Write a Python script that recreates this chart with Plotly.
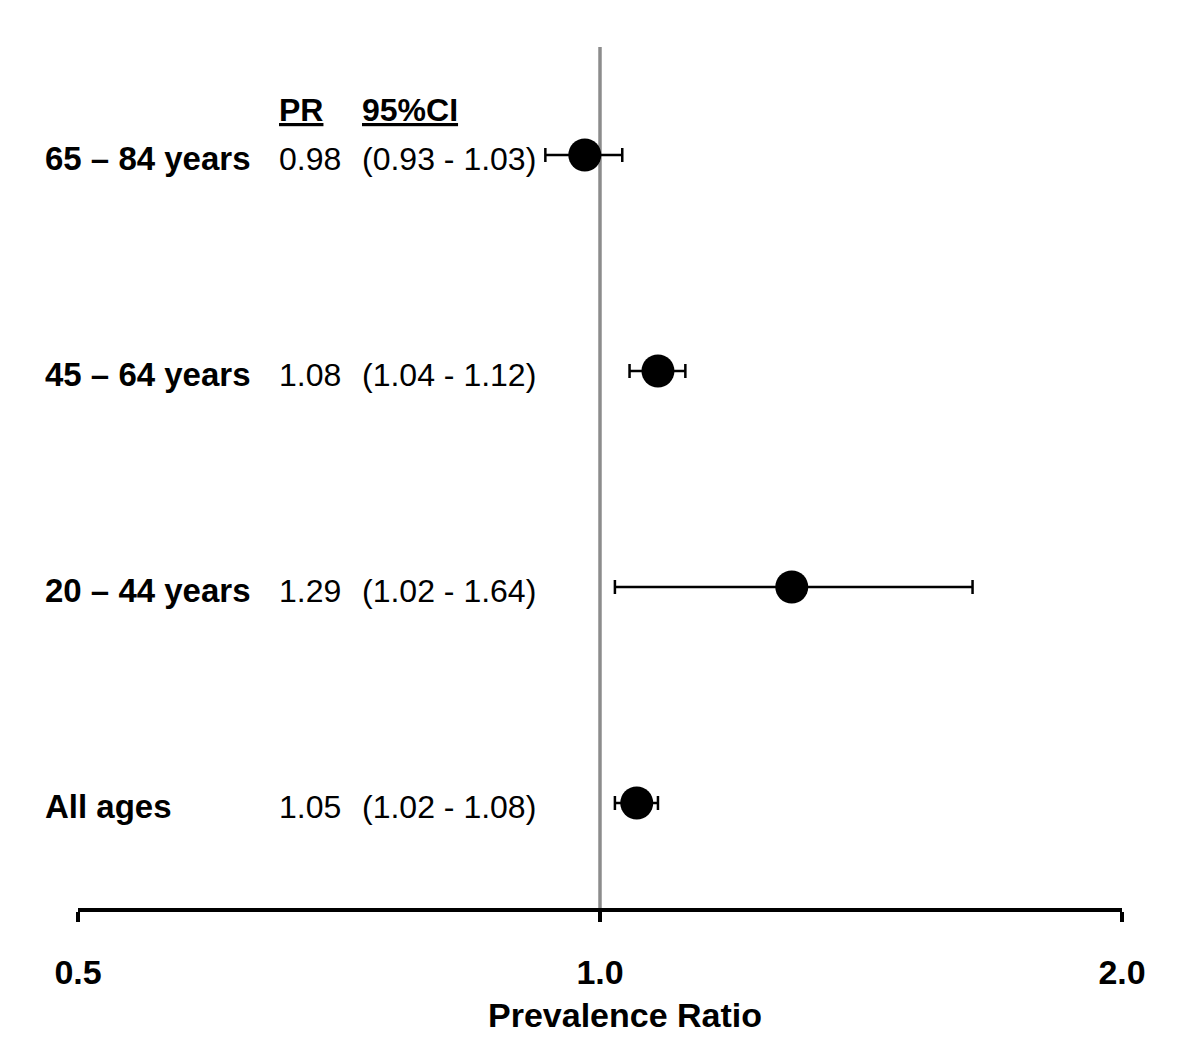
import plotly.graph_objects as go

groups = ["65 – 84 years", "45 – 64 years", "20 – 44 years", "All ages"]
pr = [0.98, 1.08, 1.29, 1.05]
ci_low = [0.93, 1.04, 1.02, 1.02]
ci_high = [1.03, 1.12, 1.64, 1.08]
rows = [4, 3, 2, 1]
tick_vals = [0.5, 1.0, 2.0]
tick_text = ["0.5", "1.0", "2.0"]
x_title = "Prevalence Ratio"

FONT = "Liberation Sans, Arial, sans-serif"

fig = go.Figure()
fig.add_trace(go.Scatter(
    x=pr, y=rows, mode="markers",
    marker=dict(size=33, color="black"),
    error_x=dict(type="data", symmetric=False,
                 array=[h - p for h, p in zip(ci_high, pr)],
                 arrayminus=[p - l for p, l in zip(pr, ci_low)],
                 color="black", thickness=2.5, width=7),
    showlegend=False, hoverinfo="skip",
))

# reference line at 1.0
fig.add_shape(type="line", xref="x", yref="paper", x0=1.0, x1=1.0, y0=0, y1=1,
              line=dict(color="#8c8c8c", width=3.5), layer="below")

# header
fig.add_annotation(xref="paper", yref="y", x=0.1906, y=4.21, text="<b><u>PR</u></b>",
                   showarrow=False, xanchor="left", yanchor="middle",
                   font=dict(family=FONT, size=32, color="black"))
fig.add_annotation(xref="paper", yref="y", x=0.2701, y=4.21, text="<b><u>95%CI</u></b>",
                   showarrow=False, xanchor="left", yanchor="middle",
                   font=dict(family=FONT, size=32, color="black"))

for g, p, l, h, r in zip(groups, pr, ci_low, ci_high, rows):
    fig.add_annotation(xref="paper", yref="y", x=-0.0335, y=r - 0.015, text=f"<b>{g}</b>",
                       showarrow=False, xanchor="left", yanchor="middle",
                       font=dict(family=FONT, size=33, color="black"))
    fig.add_annotation(xref="paper", yref="y", x=0.1906, y=r - 0.02, text=f"{p:.2f}",
                       showarrow=False, xanchor="left", yanchor="middle",
                       font=dict(family=FONT, size=32, color="black"))
    fig.add_annotation(xref="paper", yref="y", x=0.2701, y=r - 0.02, text=f"({l:.2f} - {h:.2f})",
                       showarrow=False, xanchor="left", yanchor="middle",
                       font=dict(family=FONT, size=32, color="black"))

# x-axis title (offset to the right as in the reference)
fig.add_annotation(xref="paper", yref="paper", x=0.524, y=-0.124, text=f"<b>{x_title}</b>",
                   showarrow=False, xanchor="center", yanchor="middle",
                   font=dict(family=FONT, size=34, color="black"))

fig.update_layout(
    width=1200, height=1048,
    margin=dict(l=70, r=86, t=39, b=148),
    paper_bgcolor="white", plot_bgcolor="white",
    xaxis=dict(type="log", range=[-0.30103, 0.30103],
               tickvals=tick_vals, ticktext=tick_text,
               ticks="outside", ticklen=10, tickwidth=3.5, tickcolor="black",
               showline=True, linewidth=3.5, linecolor="black",
               showgrid=False, zeroline=False,
               tickfont=dict(family=FONT, size=34, color="black", weight="bold"),
               ticklabelstandoff=21),
    yaxis=dict(range=[0.514, 4.5], visible=False, showgrid=False, zeroline=False),
)

fig.write_html("out.html")
